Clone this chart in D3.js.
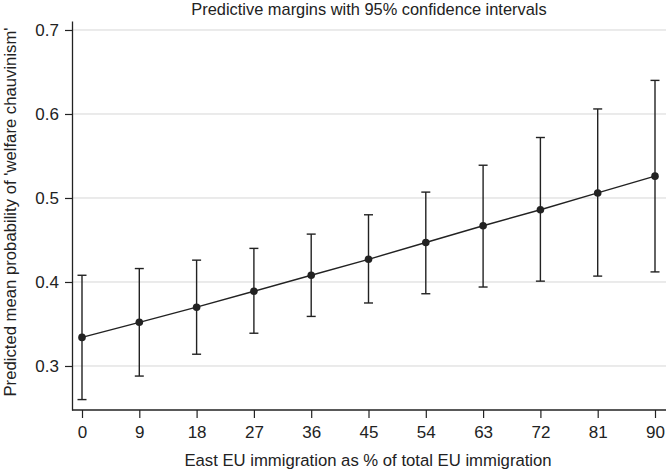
<!DOCTYPE html>
<html>
<head>
<meta charset="utf-8">
<script src="https://cdn.jsdelivr.net/npm/d3@7"></script>
<style>
  body { margin: 0; background: #fff; }
  text { font-family: "Liberation Sans", Arial, sans-serif; fill: #222; }
</style>
</head>
<body>
<svg width="666" height="471"></svg>
<script>
const width = 666;
const height = 471;

// values
const immigration = [0, 9, 18, 27, 36, 45, 54, 63, 72, 81, 90];
const margin = [0.334, 0.352, 0.370, 0.389, 0.408, 0.427, 0.447, 0.467, 0.486, 0.506, 0.526];
const lower = [0.260, 0.288, 0.314, 0.339, 0.359, 0.375, 0.386, 0.394, 0.401, 0.407, 0.412];
const upper = [0.408, 0.416, 0.426, 0.440, 0.457, 0.480, 0.507, 0.539, 0.572, 0.606, 0.640];
const yTicks = [0.3, 0.4, 0.5, 0.6, 0.7];

const svg = d3.select("svg");

const x = d3.scaleLinear()
    .domain([0, 90])
    .range([82, 655]);

const y = d3.scaleLinear()
    .domain([0.2476, 0.7107])
    .range([410, 21]);

// gridlines
svg.append("g")
    .selectAll("line")
    .data(yTicks)
    .join("line")
    .attr("x1", 72)
    .attr("x2", width)
    .attr("y1", d => y(d))
    .attr("y2", d => y(d))
    .attr("stroke", "#d6d6d6")
    .attr("stroke-width", 1);

// axes
const xAxis = svg.append("g")
    .attr("transform", `translate(0,${y(0.2476)})`)
    .call(d3.axisBottom(x).tickValues(immigration).tickSize(8).tickPadding(8).tickSizeOuter(0));
xAxis.select(".domain").attr("d", `M72,0H${width}`).attr("stroke", "#222").attr("stroke-width", 1.3);

const yAxis = svg.append("g")
    .attr("transform", "translate(72,0)")
    .call(d3.axisLeft(y).tickValues(yTicks).tickFormat(d3.format(".1f")).tickSize(7).tickPadding(6).tickSizeOuter(0));
yAxis.select(".domain").attr("stroke", "#222").attr("stroke-width", 1.3);

svg.selectAll(".tick line").attr("stroke", "#222").attr("stroke-width", 1.2);
svg.selectAll(".tick text")
    .style("font-size", "17px")
    .style("font-family", "'Liberation Sans', Arial, sans-serif")
    .attr("fill", "#222");

// error bars
const bars = svg.append("g")
    .selectAll("g")
    .data(immigration)
    .join("g");

bars.append("line")
    .attr("x1", d => x(d))
    .attr("x2", d => x(d))
    .attr("y1", (d, i) => y(lower[i]))
    .attr("y2", (d, i) => y(upper[i]))
    .attr("stroke", "#222")
    .attr("stroke-width", 1.4);

[lower, upper].forEach(arr => {
    bars.append("line")
        .attr("x1", d => x(d) - 4.5)
        .attr("x2", d => x(d) + 4.5)
        .attr("y1", (d, i) => y(arr[i]))
        .attr("y2", (d, i) => y(arr[i]))
        .attr("stroke", "#222")
        .attr("stroke-width", 1.4);
});

// margins line and points
const line = d3.line()
    .x((d, i) => x(immigration[i]))
    .y(d => y(d));

svg.append("path")
    .datum(margin)
    .attr("d", line)
    .attr("fill", "none")
    .attr("stroke", "#222")
    .attr("stroke-width", 1.4);

svg.append("g")
    .selectAll("circle")
    .data(margin)
    .join("circle")
    .attr("cx", (d, i) => x(immigration[i]))
    .attr("cy", d => y(d))
    .attr("r", 3.8)
    .attr("fill", "#222");

// titles
svg.append("text")
    .attr("x", 369)
    .attr("y", 15)
    .attr("text-anchor", "middle")
    .style("font-size", "16.4px")
    .text("Predictive margins with 95% confidence intervals");

svg.append("text")
    .attr("x", 368)
    .attr("y", 466)
    .attr("text-anchor", "middle")
    .style("font-size", "16.7px")
    .text("East EU immigration as % of total EU immigration");

svg.append("text")
    .attr("transform", "translate(16,212) rotate(-90)")
    .attr("text-anchor", "middle")
    .style("font-size", "16.7px")
    .text("Predicted mean probability of 'welfare chauvinism'");
</script>
</body>
</html>
